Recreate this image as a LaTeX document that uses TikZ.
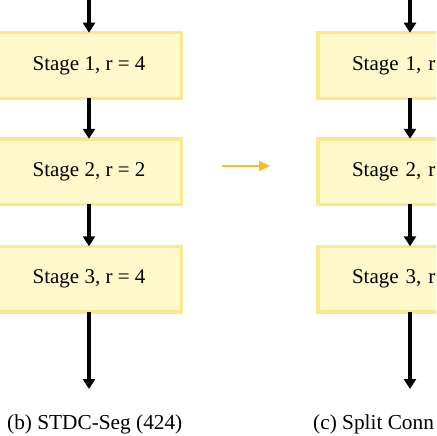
\documentclass[tikz,border=0pt]{standalone}
\usepackage{fontspec}
\setmainfont{Liberation Serif}
\usetikzlibrary{arrows.meta}
\definecolor{boxfill}{HTML}{FFF8CA}
\definecolor{boxline}{HTML}{F8E98C}
\definecolor{amber}{HTML}{F6BC2A}
\tikzset{
  stagebox/.style={draw=boxline, fill=boxfill, line width=3.5pt, minimum width=184.5pt,
    minimum height=65.5pt, outer sep=0pt, inner sep=0pt,
    font=\fontsize{21}{25}\selectfont},
  rightbox/.style={stagebox, text width=116pt, align=left},
  flow/.style={draw=black, line width=3.2pt, -{Triangle[length=10pt,width=12pt]}},
  hint/.style={draw=amber, line width=1.6pt, -{Triangle[length=11pt,width=10pt]}},
  caption/.style={anchor=base west, inner sep=0pt, font=\fontsize{21.3}{25}\selectfont}
}
\begin{document}
\begin{tikzpicture}[x=1pt,y=-1pt]
\useasboundingbox (0,0) rectangle (436,436);
\clip (0,0) rectangle (436,436);
% left column
\coordinate (ltop) at (89,0);
\node[stagebox] (l1) at (89,65.5) {Stage 1, r = 4};
\node[stagebox] (l2) at (89,171.5) {Stage 2, r = 2};
\node[stagebox] (l3) at (89,279) {Stage 3, r = 4};
\coordinate (lbot) at (89,389);
\draw[flow] (ltop) -- (l1);
\draw[flow] (l1) -- (l2);
\draw[flow] (l2) -- (l3);
\draw[flow] (l3) -- (lbot);
% right column
\coordinate (rtop) at (410,0);
\node[rightbox] (r1) at (410,65.5) {Stage 1, r};
\node[rightbox] (r2) at (410,171.5) {Stage 2, r};
\node[rightbox] (r3) at (410,279) {Stage 3, r};
\coordinate (rbot) at (410,389);
\draw[flow] (rtop) -- (r1);
\draw[flow] (r1) -- (r2);
\draw[flow] (r2) -- (r3);
\draw[flow] (r3) -- (rbot);
% orange arrow
\coordinate (oa) at (222,166);
\coordinate (ob) at (270,166);
\draw[hint] (oa) -- (ob);
% captions
\node[caption] (capb) at (7,429) {(b) STDC-Seg (424)};
\node[caption] (capc) at (313,429) {(c) Split Conn};
\end{tikzpicture}
\end{document}
